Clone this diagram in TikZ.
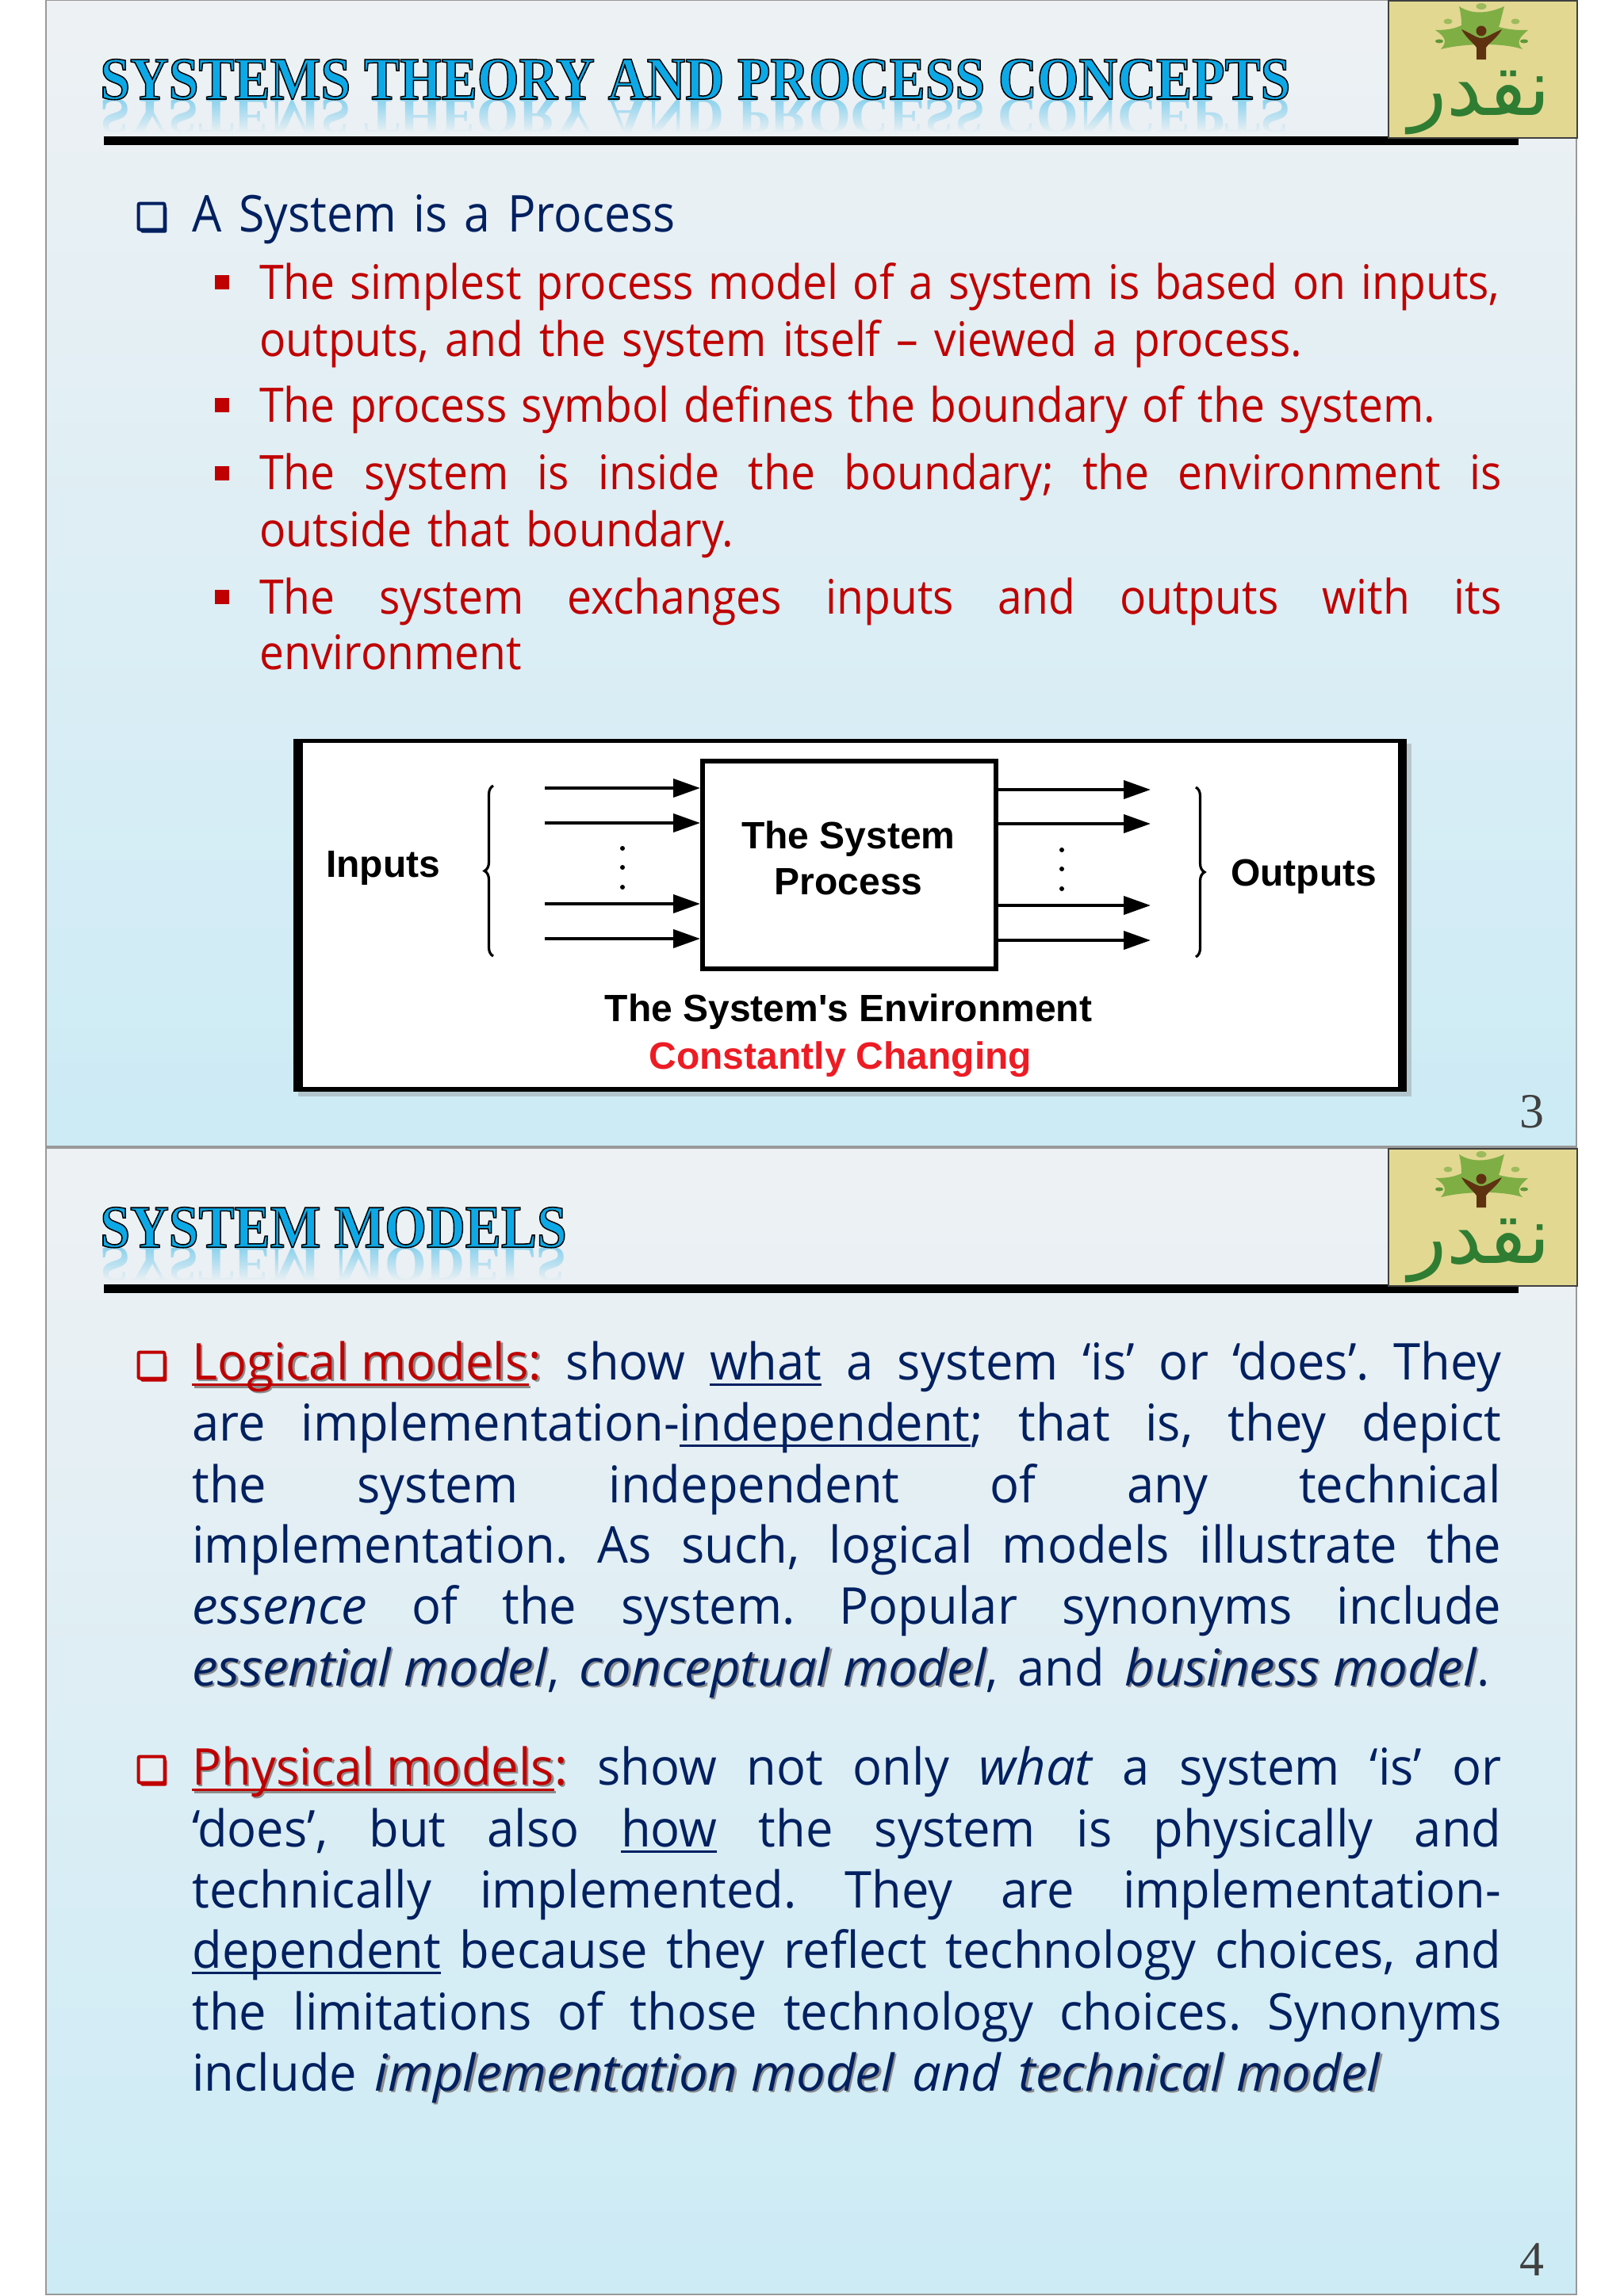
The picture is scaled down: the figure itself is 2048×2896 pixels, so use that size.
\documentclass[tikz,border=0pt]{standalone}
\usepackage{fontspec}
\usepackage{tikz}
\usetikzlibrary{arrows.meta,decorations.pathreplacing,fadings,shadows}
\TeXXeTstate=1
\frenchspacing
\newfontfamily\bodyfont[FakeStretch=0.92]{Open Sans}
\newfontfamily\parafont[FakeStretch=0.96]{Open Sans}
\newfontfamily\slantfont[FakeStretch=1.02]{Open Sans}
\newfontfamily\diagfont{Liberation Sans}
\newfontfamily\pagefont{Liberation Serif}
\newfontfamily\titlefont[FakeStretch=0.89,FakeBold=2]{Liberation Serif}
\newfontfamily\titleflat[FakeStretch=0.89]{Liberation Serif}
\newfontfamily\arabicfont[Script=Arabic]{DejaVu Sans}
\definecolor{slidetop}{HTML}{EEF1F4}
\definecolor{slidebot}{HTML}{CCEBF5}
\definecolor{navytxt}{HTML}{002060}
\definecolor{redtxt}{HTML}{C00000}
\definecolor{chgred}{HTML}{ED1C24}
\definecolor{titleblue}{HTML}{0CA9E6}
\definecolor{logosand}{HTML}{E2D892}
\definecolor{leafg}{HTML}{7FAE45}
\definecolor{leafd}{HTML}{5E9638}
\definecolor{trunk}{HTML}{5E3210}
\definecolor{scriptg}{HTML}{2F7D32}
\newlength\pxu
\setlength\pxu{0.5pt}
\newsavebox\ulbox
\newcommand{\fitline}[2]{\makebox[#1\pxu][s]{#2}}
\newcommand{\ulin}[1]{\sbox\ulbox{#1}\rlap{\rule[-0.13em]{\wd\ulbox}{0.05em}}\usebox\ulbox}
\newcommand{\shad}[1]{\rlap{\kern1.2pt\raisebox{-1.2pt}{\textcolor{black!45}{#1}}}\mbox{#1}}
\newcommand{\ital}[1]{{\slantfont\itshape #1}}
\newcommand{\slidetitle}[1]{{\titlefont\bfseries\textcolor{titleblue}{\special{pdf:code 0 0 0 RG}#1}}}
\begin{document}
\begin{tikzpicture}[x=0.5pt, y=-0.5pt,
  blueline/.style={anchor=base west, inner sep=0pt, text=navytxt, font=\bodyfont\fontsize{32}{38}\selectfont},
  paraline/.style={anchor=base west, inner sep=0pt, text=navytxt, font=\parafont\fontsize{32}{38}\selectfont},
  redline/.style={anchor=base west, inner sep=0pt, text=redtxt, font=\bodyfont\fontsize{30}{36}\selectfont},
  diagtext/.style={inner sep=0pt, font=\diagfont\bfseries\fontsize{24}{29}\selectfont, align=center},
  hollowbul/.style={draw=#1, line width=2pt, fill=slidetop!70!slidebot, rounded corners=1pt, minimum size=16.5pt, inner sep=0pt,
    general shadow={fill=#1, shadow xshift=1.4pt, shadow yshift=-2pt}},
  smallbul/.style={fill=redtxt, minimum size=9pt, inner sep=0pt},
  flow/.style={line width=2pt, -{Triangle[length=17pt, width=11.5pt]}},
  bigbrace/.style={line width=1.6pt, decorate, decoration={brace, amplitude=5.5pt, aspect=0.5}},
  dotn/.style={circle, fill=black, minimum size=3pt, inner sep=0pt}]

  \useasboundingbox (0,0) rectangle (2048,2896);

  % the two slides
  \foreach \s/\yo in {one/0,two/1448}{
  \begin{scope}[shift={(0,\yo)}]
    \draw[black!40, line width=1pt, top color=slidetop, bottom color=slidebot] (58,0) rectangle (1988,1446);
    \fill[black] (131,172) rectangle (1915,183);
    \node[draw=black!75, line width=1pt, fill=logosand, anchor=north west, minimum width=119pt, minimum height=86.5pt, inner sep=0pt] (logo\s) at (1750,0) {};
    \fill[leafg] (1840,8) .. controls (1855,18) and (1875,18) .. (1897,8)
      .. controls (1893,22) and (1892,30) .. (1890,34) .. controls (1905,38) and (1915,38) .. (1927,38)
      .. controls (1915,48) and (1912,54) .. (1920,62) .. controls (1895,54) and (1850,54) .. (1817,62)
      .. controls (1826,52) and (1822,46) .. (1810,38) .. controls (1825,38) and (1835,36) .. (1843,32)
      .. controls (1843,24) and (1842,16) .. (1840,8) -- cycle;
    \fill[leafg!70!logosand] (1868,8) ellipse [x radius=6.5, y radius=4];
    \fill[leafg!70!logosand] (1826,27) ellipse [x radius=5.5, y radius=3.5];
    \fill[leafg!70!logosand] (1911,27) ellipse [x radius=5.5, y radius=3.5];
    \fill[leafd] (1815,52) ellipse [x radius=5, y radius=2.5];
    \fill[leafd] (1922,52) ellipse [x radius=5, y radius=2.5];
    \fill[trunk] (1843,37) .. controls (1855,42) and (1862,48) .. (1868,48) .. controls (1874,48) and (1882,42) .. (1894,37)
      .. controls (1888,48) and (1878,54) .. (1874,60) -- (1874,75) -- (1862,75) -- (1862,60) .. controls (1858,54) and (1849,48) .. (1843,37) -- cycle;
    \fill[trunk] (1868,39) circle [radius=6.5];
    \node[inner sep=0pt, text=scriptg, font=\arabicfont\fontsize{50}{56}\selectfont] (script\s) at (1866,130) {\beginR نقدر\endR};
    \node[blueline, anchor=base west, inner sep=0pt, font=\pagefont\fontsize{31}{36}\selectfont, text=black!75] (page\s) at (1916,1422) {\ifnum\yo=0 3\else 4\fi};
  \end{scope}
  }

  % slide titles with their reflection
  \node[anchor=base west, inner sep=0pt, yscale=-0.85, transform shape, text=titleblue!45!slidetop, font=\titleflat\bfseries\fontsize{38}{44}\selectfont] (refla) at (126,125) {SYSTEMS THEORY AND PROCESS CONCEPTS};
  \fill[slidetop!95!slidebot, path fading=north] (120,124) rectangle (1640,168);
  \node[anchor=base west, inner sep=0pt, yscale=-0.85, transform shape, text=titleblue!45!slidetop, font=\titleflat\bfseries\fontsize{38}{44}\selectfont] (reflb) at (126,1573) {SYSTEM MODELS};
  \fill[slidetop!95!slidebot, path fading=north] (120,1572) rectangle (730,1616);
  \node[anchor=base west, inner sep=0pt, font=\fontsize{38}{44}\selectfont] (titlea) at (126,125) {\slidetitle{SYSTEMS THEORY AND PROCESS CONCEPTS}};
  \node[anchor=base west, inner sep=0pt, font=\fontsize{38}{44}\selectfont] (titleb) at (126,1573) {\slidetitle{SYSTEM MODELS}};

  % slide 3 text
  \node[hollowbul=navytxt] (b1) at (191,273) {};
  \node[blueline] (l1) at (242,292) {\fitline{609}{A System is a Process}};
  \node[smallbul] (s1) at (280,356) {};
  \node[smallbul] (s2) at (280,511) {};
  \node[smallbul] (s3) at (280,597) {};
  \node[smallbul] (s4) at (280,753) {};
  \node[redline] (r1) at (327,377) {\fitline{1564}{The simplest process model of a system is based on inputs,}};
  \node[redline] (r2) at (327,449) {\fitline{1315}{outputs, and the system itself – viewed a process.}};
  \node[redline] (r3) at (327,532) {\fitline{1483}{The process symbol defines the boundary of the system.}};
  \node[redline] (r4) at (327,617) {\fitline{1566}{The system is inside the boundary; the environment is}};
  \node[redline] (r5) at (327,689) {\fitline{598}{outside that boundary.}};
  \node[redline] (r6) at (327,774) {\fitline{1566}{The system exchanges inputs and outputs with its}};
  \node[redline] (r7) at (327,844) {environment};

  % the diagram
  \node[fill=black, anchor=north west, minimum width=702pt, minimum height=222.5pt, inner sep=0pt, drop shadow={opacity=0.35, shadow xshift=3pt, shadow yshift=-3pt}] (frameo) at (370,932) {};
  \node[fill=white, anchor=north west, minimum width=690.5pt, minimum height=217pt, inner sep=0pt] (framei) at (382,937) {};
  \node[draw=black, line width=3pt, minimum width=185pt, minimum height=131pt, inner sep=0pt] (proc) at (1071,1091) {};
  \node[diagtext, anchor=base] (ptxt) at (1070,1070) {The System};
  \node[diagtext, anchor=base] (ptxb) at (1070,1128) {Process};
  \node[diagtext, anchor=base] (inp) at (483,1106) {Inputs};
  \node[diagtext, anchor=base] (outp) at (1644,1117) {Outputs};
  \node[diagtext, anchor=base] (envt) at (1070,1288) {The System's Environment};
  \node[diagtext, anchor=base, text=chgred] (chg) at (1060,1348) {Constantly Changing};
  \foreach \y [count=\i] in {994,1038,1140,1184}{
    \coordinate (in\i) at (687,\y);
    \draw[flow] (in\i) -- (in\i -| proc.west);
  }
  \foreach \y [count=\i] in {996,1039,1142,1186}{
    \coordinate (out\i) at (1451,\y);
    \draw[flow] (out\i -| proc.east) -- (out\i);
  }
  \foreach \y [count=\i] in {1070,1094,1119}{
    \node[dotn] (idot\i) at (785,\y) {};
  }
  \foreach \y [count=\i] in {1072,1096,1121}{
    \node[dotn] (odot\i) at (1339,\y) {};
  }
  \coordinate (bla) at (622,1206);
  \coordinate (blb) at (622,991);
  \coordinate (bra) at (1508,993);
  \coordinate (brb) at (1508,1207);
  \draw[bigbrace] (bla) -- (blb);
  \draw[bigbrace] (bra) -- (brb);

  % slide 4 text
  \node[hollowbul=redtxt] (b2) at (191,1722) {};
  \node[hollowbul=redtxt] (b3) at (191,2232) {};
  \node[paraline] (p1) at (242,1740) {\fitline{1651}{\textcolor{redtxt}{\shad{\ulin{Logical models}:}} show \ulin{what} a system ‘is’ or ‘does’. They}};
  \node[paraline] (p2) at (242,1817) {\fitline{1651}{are implementation-\ulin{independent}; that is, they depict}};
  \node[paraline] (p3) at (242,1895) {\fitline{1651}{the system independent of any technical}};
  \node[paraline] (p4) at (242,1971) {\fitline{1651}{implementation. As such, logical models illustrate the}};
  \node[paraline] (p5) at (242,2048) {\fitline{1651}{\ital{essence} of the system. Popular synonyms include}};
  \node[paraline] (p6) at (242,2126) {\fitline{1636}{\ital{\shad{essential model}}, \ital{\shad{conceptual model}}, and \ital{\shad{business model}}.}};
  \node[paraline] (q1) at (242,2251) {\fitline{1651}{\textcolor{redtxt}{\shad{\ulin{Physical models}:}} show not only \ital{what} a system ‘is’ or}};
  \node[paraline] (q2) at (242,2329) {\fitline{1651}{‘does’, but also \ulin{how} the system is physically and}};
  \node[paraline] (q3) at (242,2406) {\fitline{1651}{technically implemented. They are implementation-}};
  \node[paraline] (q4) at (242,2482) {\fitline{1651}{\ulin{dependent} because they reflect technology choices, and}};
  \node[paraline] (q5) at (242,2560) {\fitline{1651}{the limitations of those technology choices. Synonyms}};
  \node[paraline] (q6) at (242,2637) {\fitline{1498}{include \ital{\shad{implementation model}} \ital{and} \ital{\shad{technical model}}}};
\end{tikzpicture}
\end{document}
